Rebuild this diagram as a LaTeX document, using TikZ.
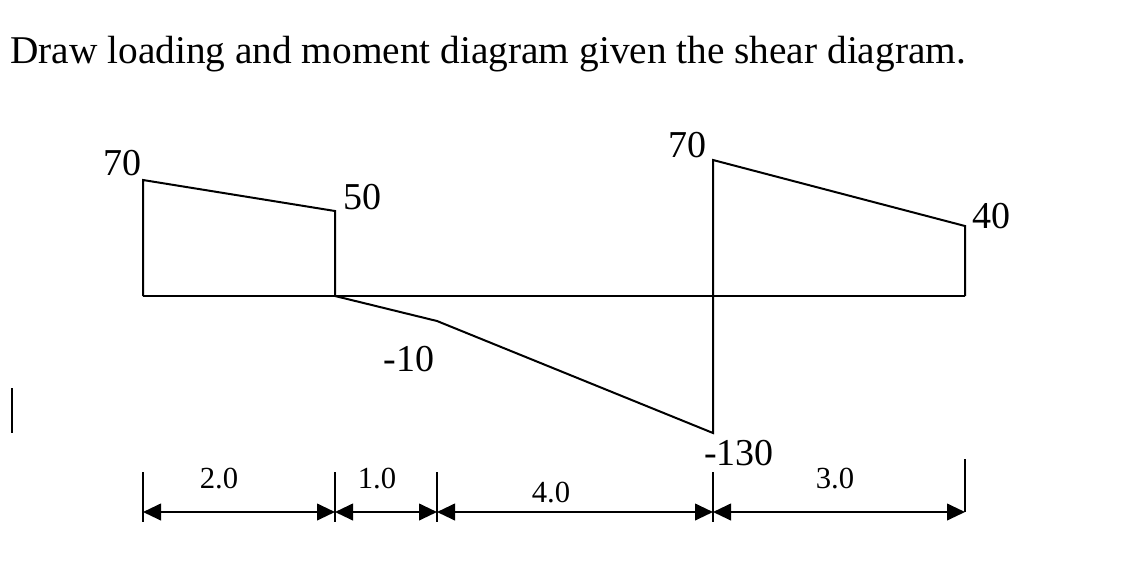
\documentclass[tikz,border=0pt]{standalone}
\usepackage{fontspec}
\setmainfont{Liberation Serif}
\usetikzlibrary{arrows.meta, positioning}

\begin{document}
\begin{tikzpicture}[
  x=0.75pt, y=-0.75pt,
  shear/.style={line width=1.5pt, black, line join=miter},
  dimtick/.style={line width=1.5pt},
  dimline/.style={{Triangle[length=13.5pt,width=12.5pt]}-{Triangle[length=13.5pt,width=12.5pt]}, line width=1.5pt},
  val/.style={font=\fontsize{28.5}{32}\selectfont, inner sep=0pt},
  dimlabel/.style={font=\fontsize{23}{27}\selectfont, inner sep=0pt}
]
\useasboundingbox (0,0) rectangle (1136,576);

% Title
\node[anchor=base west, inner sep=0pt, font=\fontsize{29.5}{34}\selectfont] (title) at (10,63)
  {Draw loading and moment diagram given the shear diagram.};

% Shear diagram
\coordinate (a0) at (143,296);
\coordinate (a1) at (143,180);
\coordinate (b1) at (335,211);
\coordinate (b0) at (335,296);
\coordinate (c1) at (437,321);
\coordinate (d1) at (713,433);
\coordinate (d2) at (713,160);
\coordinate (e1) at (965,226);
\coordinate (e0) at (965,296);

\draw[shear] (a0) -- (e0);
\draw[shear] (a0) -- (a1) -- (b1) -- (b0) -- (c1) -- (d1) -- (d2) -- (e1) -- (e0);

% Values
\node[val] (v70a) at (122,163) {70};
\node[val] (v50) at (362,197) {50};
\node[val] (v10) at (409,359) {-10};
\node[val] (v70b) at (687,145) {70};
\node[val] (v130) at (739,453) {-130};
\node[val] (v40) at (991,216) {40};

% Dimensions
\coordinate (m1) at (143,512);
\coordinate (m2) at (335,512);
\coordinate (m3) at (437,512);
\coordinate (m4) at (713,512);
\coordinate (m5) at (965,512);

\draw[dimtick] (143,472) -- (143,522);
\draw[dimtick] (335,472) -- (335,522);
\draw[dimtick] (437,472) -- (437,522);
\draw[dimtick] (713,472) -- (713,522);
\draw[dimtick] (965,459) -- (m5);

\draw[dimline] (m1) -- (m2);
\draw[dimline] (m2) -- (m3);
\draw[dimline] (m3) -- (m4);
\draw[dimline] (m4) -- (m5);

\node[dimlabel] (l20) at (219,479) {2.0};
\node[dimlabel] (l10) at (377,479) {1.0};
\node[dimlabel] (l40) at (551,493) {4.0};
\node[dimlabel] (l30) at (835,479) {3.0};

% Cursor
\draw[line width=1.5pt] (11.5,388) -- (11.5,433);

\end{tikzpicture}
\end{document}
